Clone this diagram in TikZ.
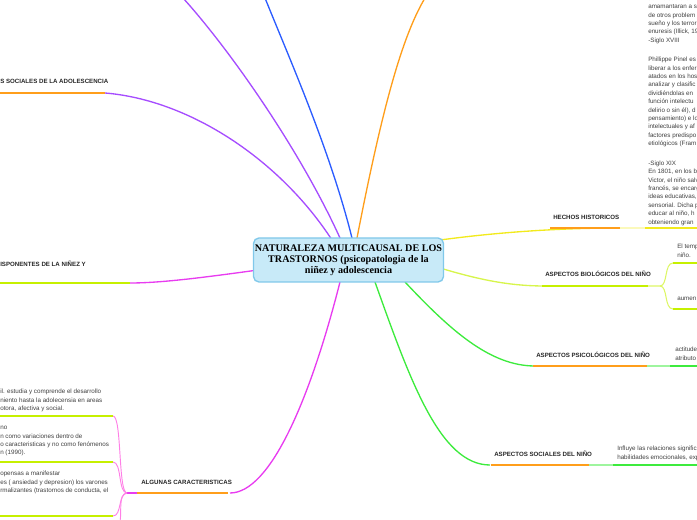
\documentclass[tikz,border=0pt]{standalone}
\usepackage{fontspec}
\setmainfont{Liberation Sans}
\newfontfamily\serifb{Liberation Serif}
\begin{document}
\begin{tikzpicture}[x=0.75pt,y=-0.75pt,
  lab/.style={font=\fontsize{4.6pt}{5pt}\selectfont\bfseries, anchor=base west, inner sep=0pt, text=black!85},
  txt/.style={font=\fontsize{4.7pt}{6.3pt}\selectfont, anchor=north west, inner sep=0pt, text=black!75, align=left},
  br/.style={line width=1pt},
  ul/.style={line width=1.6pt}]
\definecolor{corange}{HTML}{FF9E1B}
\definecolor{cpurple}{HTML}{A64DFF}
\definecolor{cmag}{HTML}{E83CF0}
\definecolor{cblue}{HTML}{2B5CFF}
\definecolor{cyellow}{HTML}{F2EA1C}
\definecolor{clime}{HTML}{C6F000}
\definecolor{cgreen}{HTML}{3DEB3D}
\definecolor{cpink}{HTML}{FF7FE6}
\definecolor{cfill}{HTML}{C8EAF8}
\definecolor{cbord}{HTML}{80C8EA}
\useasboundingbox (0,0) rectangle (697,520);
\clip (0,0) rectangle (697,520);
% coordinates
\coordinate (c1) at (332,240); \coordinate (c2) at (258,270);
\coordinate (c3) at (352,238); \coordinate (c4) at (340,238);
\coordinate (c5) at (357,238); \coordinate (c6) at (440,240);
\coordinate (c7) at (440,268); \coordinate (c8) at (405,282);
\coordinate (c9) at (375,282); \coordinate (c10) at (340,282);
% branches
\draw[br,cpurple] (c1) .. controls (280,160) and (190,100) .. (105,93);
\draw[br,cpurple] (c4) .. controls (300,150) and (230,50) .. (183,-2);
\draw[br,cblue] (c3) .. controls (330,150) and (290,60) .. (265,-2);
\draw[br,corange] (c5) .. controls (380,120) and (400,40) .. (425,-2);
\draw[br,cmag] (c2) .. controls (200,278) and (160,283) .. (130,283);
\draw[br,cyellow] (c6) .. controls (500,232) and (560,228) .. (620,228);
\draw[br,clime!70] (c7) .. controls (480,280) and (510,286) .. (545,286);
\draw[br,cgreen] (c8) .. controls (450,330) and (490,366) .. (535,366);
\draw[br,cgreen] (c9) .. controls (410,380) and (440,465) .. (490,465);
\draw[br,cmag] (c10) .. controls (310,400) and (270,493) .. (230,493);
% underlines
\draw[ul,corange] (0,93) -- (105,93);
\draw[ul,clime] (0,283) -- (130,283);
\draw[ul,corange] (550,228) -- (620,228);
\draw[ul,cyellow!30] (620,228) -- (645,228);
\draw[ul,cyellow] (645,228) -- (697,228);
\draw[ul,clime] (542,286) -- (648,286);
\draw[ul,corange] (533,366) -- (647,366);
\draw[ul,corange] (491,465) -- (589,465);
\draw[ul,corange] (137,493) -- (228,493);
% secondary connectors
\coordinate (b0) at (648,286);
\draw[br,clime!60,line width=0.8pt] (b0) -- (660,286) .. controls (668,286) and (664,263) .. (673,263) -- (697,263);
\draw[br,clime!60,line width=0.8pt] (660,286) .. controls (668,286) and (664,309) .. (673,309) -- (697,309);
\draw[ul,clime] (673,263) -- (697,263); \draw[ul,clime] (673,309) -- (697,309);
\draw[br,cgreen!50,line width=0.8pt] (647,366) -- (670,366);
\draw[ul,cgreen] (670,366) -- (697,366);
\draw[br,cgreen!50,line width=0.8pt] (589,465) -- (613,465);
\draw[ul,cgreen] (613,465) -- (697,465);
\draw[br,cmag,line width=0.8pt] (137,493) -- (127,493);
\draw[cpink,line width=0.7pt] (127,493) .. controls (118,493) and (122,416) .. (113,416);
\draw[cpink,line width=0.7pt] (127,493) .. controls (118,493) and (122,462) .. (113,462);
\draw[cpink,line width=0.7pt] (127,493) .. controls (118,493) and (122,516) .. (113,516);
\draw[cpink,line width=0.7pt] (127,493) .. controls (118,495) and (122,510) .. (120,522);
\draw[ul,clime] (0,416) -- (113,416);
\draw[ul,clime] (0,462) -- (113,462);
\draw[ul,clime] (0,516) -- (113,516);
% center
\node[draw=cbord, fill=cfill, line width=1pt, rounded corners=4pt, minimum width=183*0.75pt, minimum height=44*0.75pt, align=center, inner sep=1pt,
  font=\serifb\fontsize{7.6pt}{8.2pt}\selectfont\bfseries] (center) at (348.5,260)
  {NATURALEZA MULTICAUSAL DE LOS\\TRASTORNOS (psicopatologia de la\\niñez y adolescencia};
% labels
\node[lab] (l1) at (0,84) {S SOCIALES DE LA ADOLESCENCIA};
\node[lab] (l2) at (0,267) {ISPONENTES DE LA NIÑEZ Y};
\node[lab] (l3) at (553,220) {HECHOS HISTORICOS};
\node[lab] (l4) at (545,277) {ASPECTOS BIOLÓGICOS DEL NIÑO};
\node[lab] (l5) at (536,358) {ASPECTOS PSICOLÓGICOS DEL NIÑO};
\node[lab] (l6) at (494,457) {ASPECTOS SOCIALES DEL NIÑO};
\node[lab] (l7) at (141,485) {ALGUNAS CARACTERISTICAS};
% texts
\node[txt] (t1) at (648,-4.5) {auxilio sobre la\\amamantaran a s\\de otros problem\\sueño y los terror\\enuresis (Illick, 19\\-Siglo XVIII\\[2pt]\\Phillippe Pinel es\\liberar a los enfer\\atados en los hos\\analizar y clasific\\dividiéndolas en\\función intelectu\\delirio o sin él), d\\pensamiento) e lo\\intelectuales y af\\factores predispo\\etiológicos (Fram\\[2pt]\\-Siglo XIX\\En 1801, en los b\\Victor, el niño salv\\francés, se encarg\\ideas educativas,\\sensorial. Dicha p\\educar al niño, h\\obteniendo gran};
\node[txt] (t2) at (677,244) {El temp\\niño.};
\node[txt] (t3) at (677,297) {aumen};
\node[txt] (t4) at (675,347) {actitude\\atributo};
\node[txt] (t5) at (617,446) {Influye las relaciones signific\\habilidades emocionales, exp};
\node[txt] (t6) at (0,389) {il. estudia y comprende el desarrollo\\niento hasta la adolecensia en areas\\otora, afectiva y social.};
\node[txt] (t7) at (0,426) {no\\n como variaciones dentro de\\o caracteristicas y no como fenómenos\\n (1990).};
\node[txt] (t8) at (0,471) {opensas a manifestar\\es ( ansiedad y depresion) los varones\\rmalizantes (trastornos de conducta, el};
\end{tikzpicture}
\end{document}
